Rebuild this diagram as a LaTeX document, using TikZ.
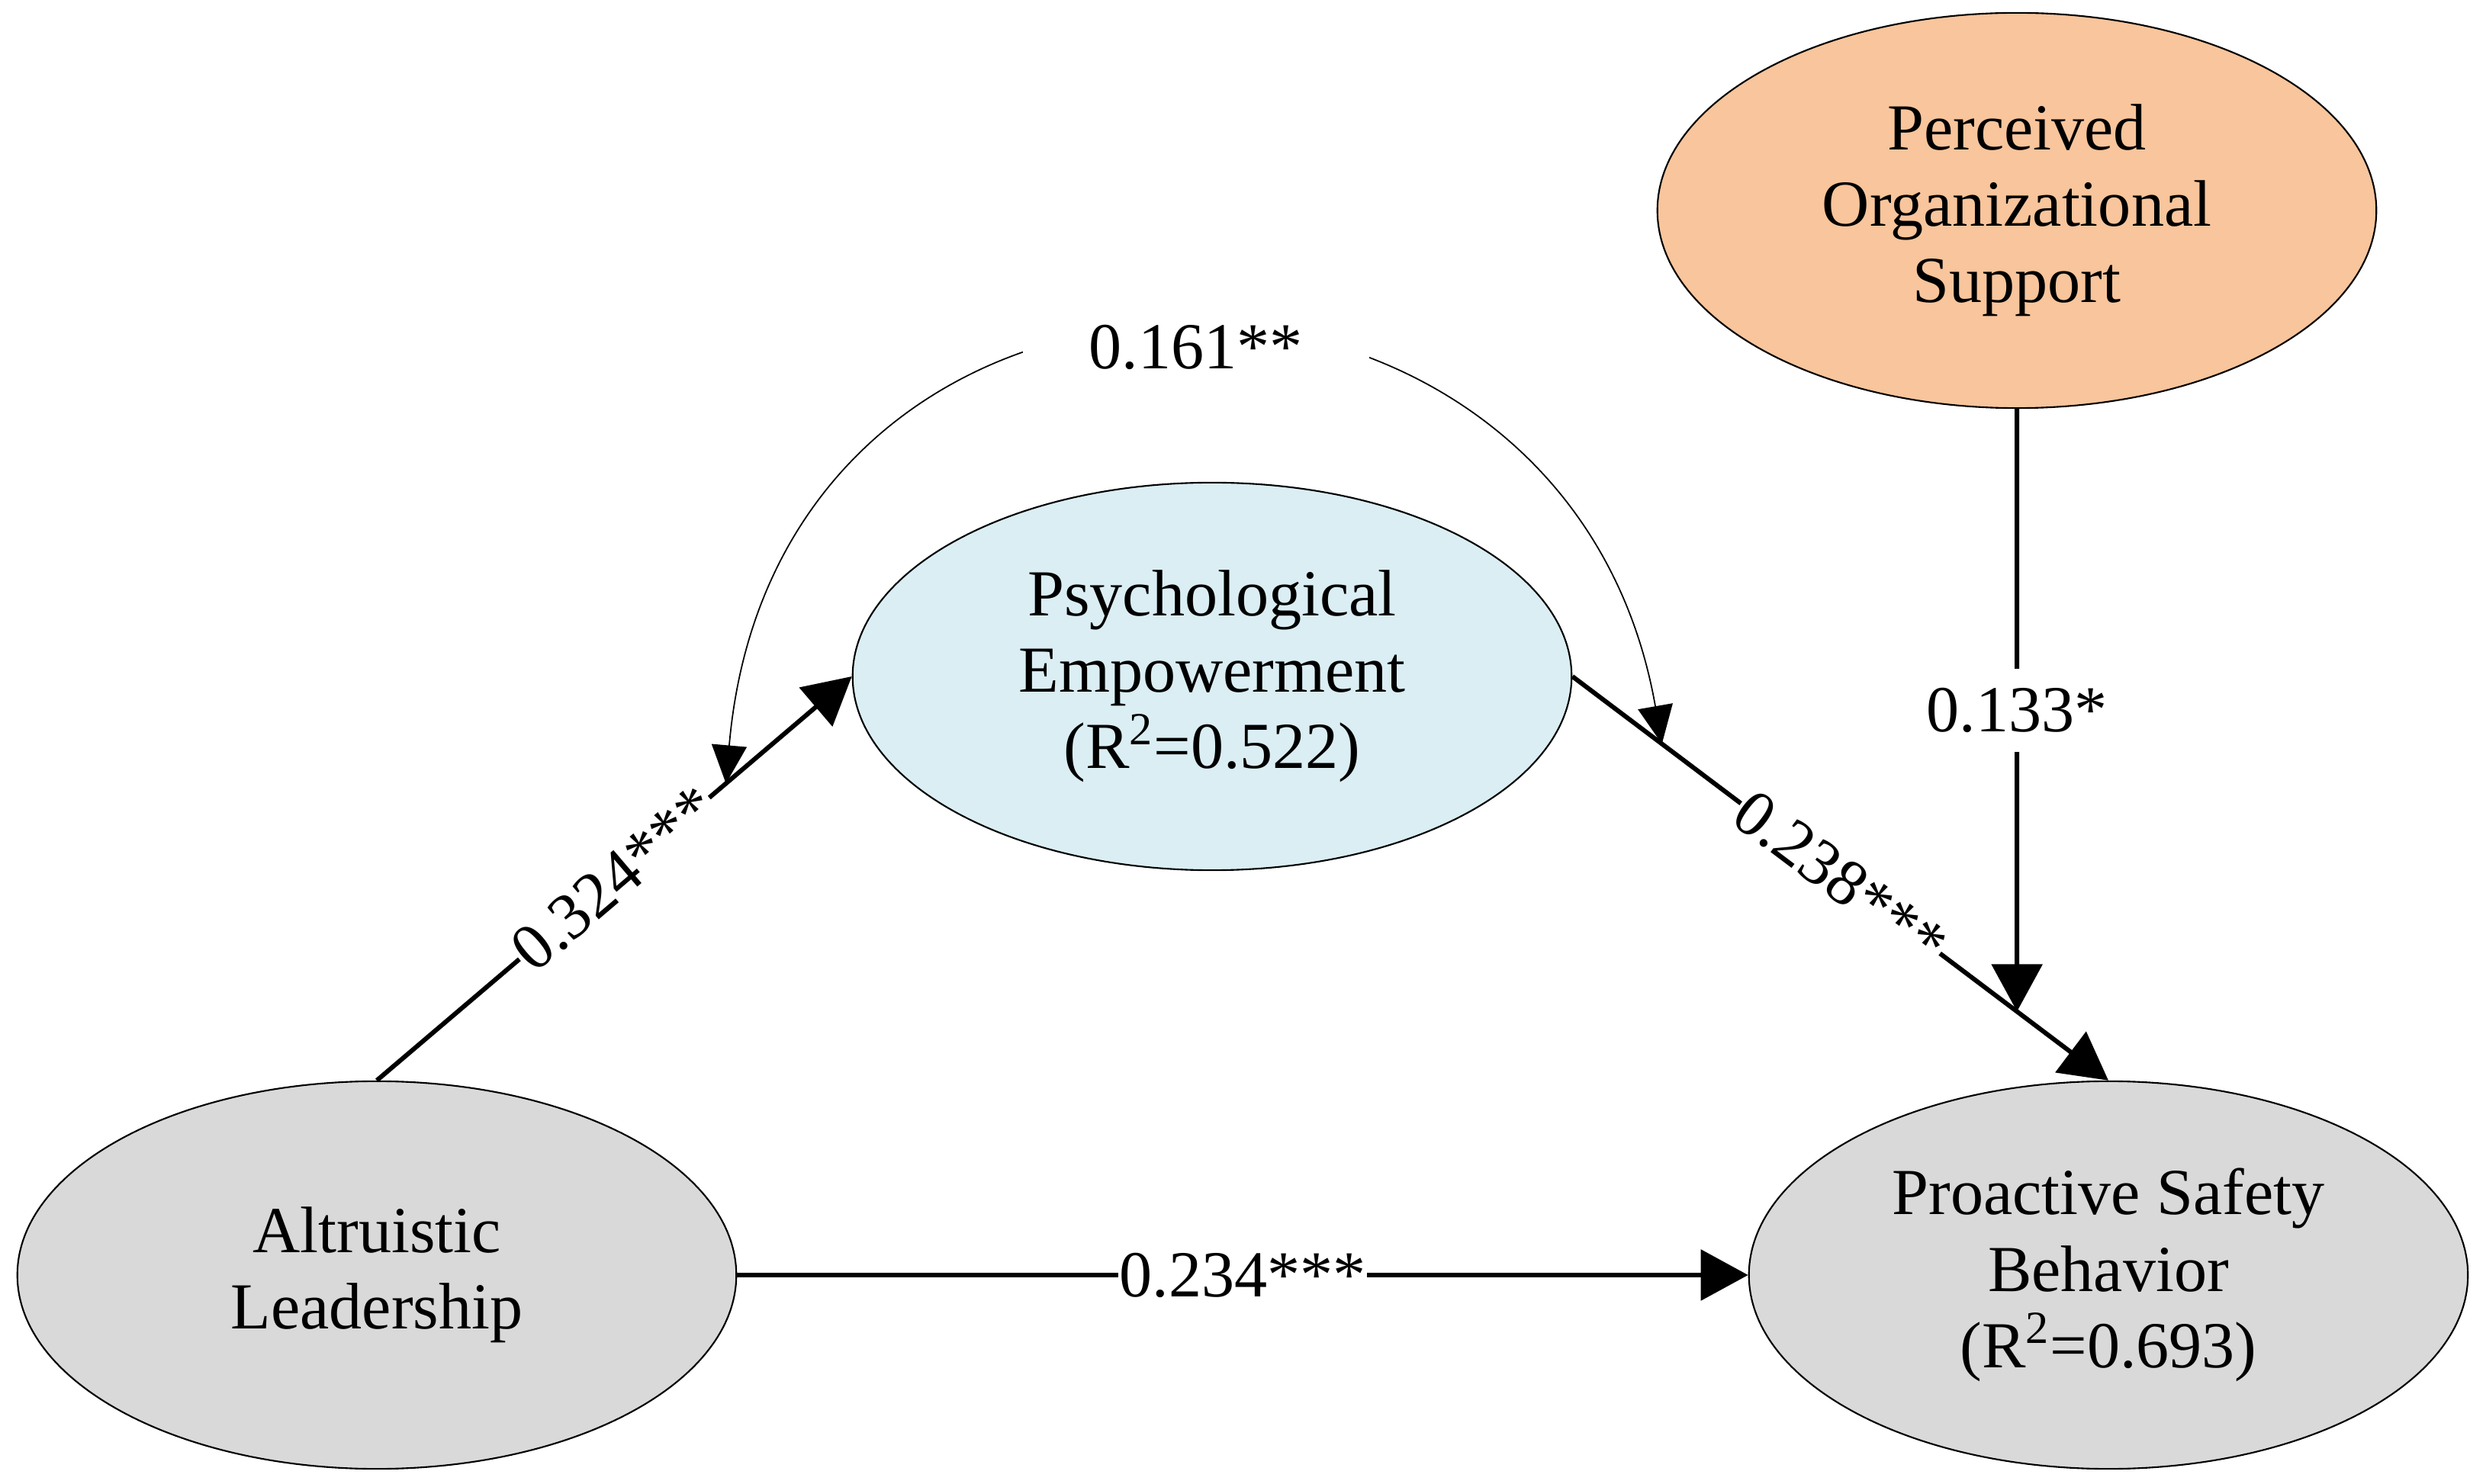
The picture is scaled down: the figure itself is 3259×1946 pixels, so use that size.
\documentclass[tikz,border=0pt]{standalone}
\usepackage{fontspec}
\setmainfont{Liberation Serif}
\usetikzlibrary{shapes.geometric,arrows.meta,calc}
\definecolor{grayfill}{HTML}{D9D9D9}
\definecolor{bluefill}{HTML}{DAEEF3}
\definecolor{orangefill}{HTML}{F8C59C}

\begin{document}
\begin{tikzpicture}[x=0.01cm,y=-0.01cm,
  every node/.style={font=\fontsize{24.5}{28.5}\selectfont},
  construct/.style={ellipse,draw,line width=0.6pt,minimum width=9.42cm,minimum height=5.08cm,align=center,inner sep=0pt},
  effect/.style={line width=1.7pt,-{Triangle[length=0.62cm,width=0.66cm]}},
  coef/.style={fill=white,inner xsep=0.5pt,inner ysep=2pt}]
  \useasboundingbox (0,0) rectangle (3259,1946);
  % constructs
  \node[construct,fill=grayfill] (AL) at (494,1672) {Altruistic\\Leadership};
  \node[construct,fill=grayfill] (PSB) at (2764,1672) {Proactive Safety\\Behavior\\(R\textsuperscript{2}=0.693)};
  \node[construct,fill=bluefill] (PE) at (1589,887) {Psychological\\Empowerment\\(R\textsuperscript{2}=0.522)};
  \node[construct,fill=orangefill,minimum height=5.18cm] (POS) at (2644,276) {Perceived\\Organizational\\Support};
  % paths
  \draw[effect] (AL.north) -- node[coef,sloped] {0.324***} (PE.west);
  \draw[effect] (PE.east) -- node[coef,sloped] {0.238***} (PSB.north);
  \draw[effect] (AL.east) -- node[coef] {0.234***} (PSB.west);
  \coordinate (hit) at (intersection of PE.east--PSB.north and POS.center--POS.south);
  \draw[effect] (POS.south) -- node[coef,inner ysep=0.25cm] {0.133*} (hit);
  % moderation
  \coordinate (m1) at ($(AL.north)!0.735!(PE.west)$);
  \coordinate (m2) at ($(PE.east)!0.167!(PSB.north)$);
  \draw[line width=0.5pt,{Triangle[length=0.5cm,width=0.46cm]}-{Triangle[length=0.5cm,width=0.46cm]}]
    (m1) .. controls +(67,-778) and +(-127,-725) .. node[coef,pos=0.5,xshift=0.25cm,yshift=-0.18cm,inner xsep=0.87cm,inner ysep=0.3cm] {0.161**} (m2);
\end{tikzpicture}
\end{document}
